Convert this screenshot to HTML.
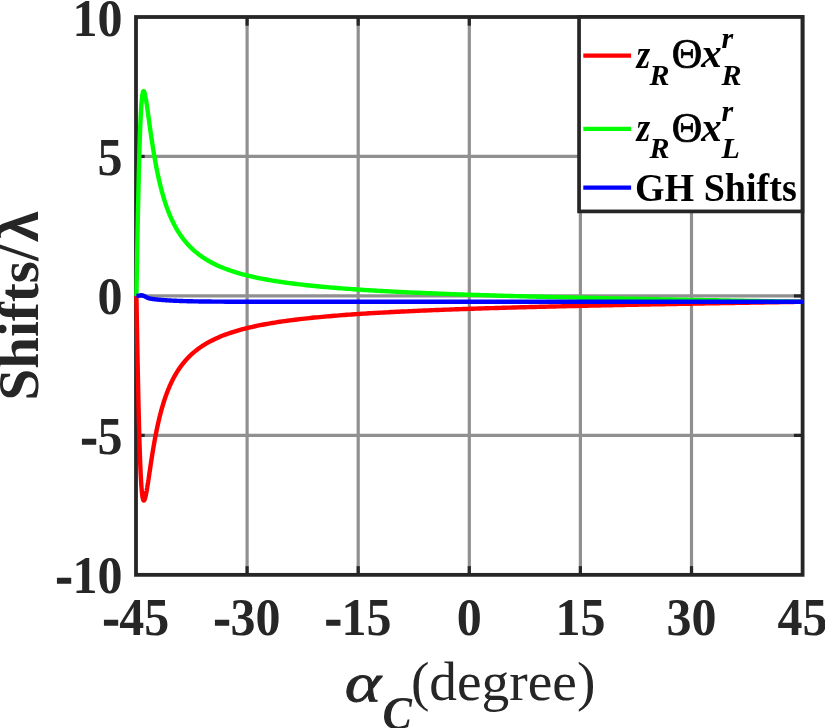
<!DOCTYPE html>
<html><head><meta charset="utf-8"><style>
html,body{margin:0;padding:0;background:#fff;}
body{width:825px;height:728px;overflow:hidden;position:relative;}
svg{position:absolute;left:0;top:0;}
text{font-family:"Liberation Serif",serif;}
.tk{font-weight:bold;font-size:50px;fill:#262626;}
.lg{font-weight:bold;font-size:41px;fill:#000;}
.bi{font-style:italic;font-weight:bold;}
.sub{font-size:30px;}
.xl{font-size:55px;fill:#262626;}
.xsub{font-size:46px;}
.it{font-style:italic;}
.al{stroke:#262626;stroke-width:0.8px;}
.yl{font-weight:bold;font-size:57px;fill:#262626;}
.hy{stroke:#262626;stroke-width:1.3px;}
.lam{font-family:"Liberation Sans",sans-serif;}
</style></head><body>
<svg width="825" height="728" viewBox="0 0 825 728">
<line x1="247.10" y1="17.0" x2="247.10" y2="574.85" stroke="#909090" stroke-width="3.2"/>
<line x1="358.20" y1="17.0" x2="358.20" y2="574.85" stroke="#909090" stroke-width="3.2"/>
<line x1="469.30" y1="17.0" x2="469.30" y2="574.85" stroke="#909090" stroke-width="3.2"/>
<line x1="580.40" y1="17.0" x2="580.40" y2="574.85" stroke="#909090" stroke-width="3.2"/>
<line x1="691.50" y1="17.0" x2="691.50" y2="574.85" stroke="#909090" stroke-width="3.2"/>
<line x1="136.0" y1="435.39" x2="802.6" y2="435.39" stroke="#909090" stroke-width="3.2"/>
<line x1="136.0" y1="295.93" x2="802.6" y2="295.93" stroke="#909090" stroke-width="3.2"/>
<line x1="136.0" y1="156.46" x2="802.6" y2="156.46" stroke="#909090" stroke-width="3.2"/>
<line x1="247.10" y1="574.85" x2="247.10" y2="566.15" stroke="#262626" stroke-width="3.2"/>
<line x1="247.10" y1="17.0" x2="247.10" y2="25.7" stroke="#262626" stroke-width="3.2"/>
<line x1="358.20" y1="574.85" x2="358.20" y2="566.15" stroke="#262626" stroke-width="3.2"/>
<line x1="358.20" y1="17.0" x2="358.20" y2="25.7" stroke="#262626" stroke-width="3.2"/>
<line x1="469.30" y1="574.85" x2="469.30" y2="566.15" stroke="#262626" stroke-width="3.2"/>
<line x1="469.30" y1="17.0" x2="469.30" y2="25.7" stroke="#262626" stroke-width="3.2"/>
<line x1="580.40" y1="574.85" x2="580.40" y2="566.15" stroke="#262626" stroke-width="3.2"/>
<line x1="580.40" y1="17.0" x2="580.40" y2="25.7" stroke="#262626" stroke-width="3.2"/>
<line x1="691.50" y1="574.85" x2="691.50" y2="566.15" stroke="#262626" stroke-width="3.2"/>
<line x1="691.50" y1="17.0" x2="691.50" y2="25.7" stroke="#262626" stroke-width="3.2"/>
<line x1="136.0" y1="435.39" x2="144.7" y2="435.39" stroke="#262626" stroke-width="3.2"/>
<line x1="802.6" y1="435.39" x2="793.9" y2="435.39" stroke="#262626" stroke-width="3.2"/>
<line x1="136.0" y1="295.93" x2="144.7" y2="295.93" stroke="#262626" stroke-width="3.2"/>
<line x1="802.6" y1="295.93" x2="793.9" y2="295.93" stroke="#262626" stroke-width="3.2"/>
<line x1="136.0" y1="156.46" x2="144.7" y2="156.46" stroke="#262626" stroke-width="3.2"/>
<line x1="802.6" y1="156.46" x2="793.9" y2="156.46" stroke="#262626" stroke-width="3.2"/>
<rect x="136.0" y="17.0" width="666.60" height="557.85" fill="none" stroke="#262626" stroke-width="3.8"/>
<polyline points="136.40,295.93 136.47,300.09 136.55,304.26 136.62,308.41 136.70,312.56 136.77,316.70 136.85,320.83 136.92,324.94 137.00,329.03 137.07,333.10 137.14,337.15 137.22,341.17 137.29,345.16 137.37,349.13 137.44,353.06 137.52,356.96 137.59,360.82 137.67,364.64 137.74,368.42 137.81,372.16 137.89,375.85 137.96,379.50 138.04,383.11 138.11,386.66 138.19,390.16 138.26,393.61 138.34,397.01 138.41,400.36 138.48,403.65 138.56,406.88 138.63,410.06 138.71,413.18 138.78,416.24 138.86,419.24 138.93,422.18 139.01,425.06 139.08,427.88 139.15,430.64 139.23,433.33 139.30,435.97 139.38,438.54 139.45,441.05 139.53,443.50 139.60,445.89 139.68,448.22 139.75,450.49 139.82,452.69 139.90,454.84 139.97,456.92 140.05,458.94 140.12,460.91 140.20,462.82 140.27,464.66 140.35,466.45 140.42,468.19 140.49,469.86 140.57,471.48 140.64,473.05 140.72,474.56 140.79,476.02 140.87,477.42 140.94,478.78 141.02,480.08 141.09,481.33 141.16,482.54 141.24,483.69 141.31,484.80 141.39,485.86 141.46,486.88 141.54,487.85 141.61,488.77 141.69,489.66 141.76,490.50 141.83,491.30 141.91,492.06 141.98,492.78 142.06,493.46 142.13,494.11 142.21,494.72 142.28,495.29 142.36,495.83 142.43,496.33 142.50,496.81 142.58,497.24 142.65,497.65 142.73,498.03 142.80,498.38 142.88,498.69 142.95,498.98 143.03,499.25 143.10,499.48 143.17,499.69 143.25,499.88 143.32,500.04 143.40,500.17 143.47,500.29 143.55,500.38 143.62,500.45 143.70,500.49 143.77,500.52 143.84,500.53 143.92,500.52 143.99,500.49 144.07,500.44 144.14,500.37 144.22,500.29 144.29,500.19 144.36,500.07 144.44,499.94 144.51,499.79 144.59,499.63 144.66,499.45 144.74,499.26 144.81,499.06 144.89,498.85 144.96,498.62 145.03,498.38 145.11,498.13 145.18,497.87 145.26,497.59 145.33,497.31 145.41,497.02 145.48,496.71 145.56,496.40 145.63,496.08 145.70,495.75 145.78,495.41 145.85,495.06 145.93,494.71 146.00,494.35 146.08,493.98 146.15,493.60 146.23,493.22 146.30,492.83 146.37,492.43 146.45,492.03 146.52,491.62 146.60,491.21 146.67,490.79 146.75,490.36 146.82,489.93 146.90,489.50 146.97,489.06 147.04,488.62 147.12,488.17 147.19,487.72 147.27,487.27 147.34,486.81 147.42,486.35 147.49,485.89 147.57,485.42 147.64,484.95 147.71,484.48 147.79,484.00 147.86,483.52 147.94,483.04 148.01,482.56 148.09,482.08 148.16,481.59 148.24,481.10 148.31,480.61 148.38,480.12 148.46,479.63 148.53,479.13 148.61,478.64 148.68,478.14 148.76,477.65 148.83,477.15 148.91,476.65 148.98,476.15 149.05,475.65 149.13,475.15 149.20,474.65 149.28,474.15 149.35,473.65 149.43,473.14 149.50,472.64 149.58,472.14 149.65,471.64 149.72,471.14 149.80,470.64 149.87,470.14 149.95,469.64 150.02,469.14 150.10,468.64 150.17,468.14 150.25,467.64 150.32,467.14 150.39,466.65 150.47,466.15 150.54,465.66 150.62,465.16 150.69,464.67 150.77,464.18 150.84,463.69 150.92,463.20 150.99,462.71 151.06,462.22 151.14,461.73 151.21,461.25 151.51,459.32 151.81,457.41 152.11,455.53 152.40,453.67 152.70,451.83 153.00,450.03 153.30,448.25 153.60,446.50 153.89,444.77 154.19,443.08 154.49,441.41 154.79,439.78 155.08,438.17 155.38,436.59 155.68,435.03 155.98,433.51 156.28,432.01 156.57,430.54 156.87,429.09 157.17,427.68 157.47,426.28 157.76,424.92 158.06,423.57 158.36,422.26 158.66,420.96 158.95,419.69 159.25,418.45 159.55,417.22 159.85,416.02 160.15,414.84 160.44,413.68 160.74,412.54 161.04,411.43 161.34,410.33 161.63,409.25 161.93,408.19 162.23,407.15 162.53,406.13 162.83,405.13 163.12,404.14 163.42,403.17 163.72,402.22 164.02,401.28 164.31,400.36 164.61,399.45 164.91,398.56 165.21,397.69 165.51,396.83 165.80,395.98 166.10,395.15 166.40,394.33 166.70,393.53 166.99,392.73 167.29,391.95 167.59,391.19 167.89,390.43 168.19,389.69 168.48,388.96 168.78,388.24 169.08,387.53 169.38,386.83 169.67,386.14 169.97,385.47 170.27,384.80 170.57,384.15 170.87,383.50 171.16,382.86 171.46,382.24 171.76,381.62 172.06,381.01 172.35,380.41 172.65,379.82 172.95,379.23 173.25,378.66 173.54,378.09 173.84,377.53 174.14,376.98 174.44,376.44 174.74,375.90 175.03,375.37 175.33,374.85 175.63,374.34 175.93,373.83 176.22,373.33 176.52,372.84 176.82,372.35 177.12,371.87 177.42,371.40 177.71,370.93 178.01,370.46 178.31,370.01 178.61,369.56 178.90,369.11 179.20,368.67 179.50,368.24 179.80,367.81 180.10,367.39 180.39,366.97 180.69,366.56 180.99,366.15 181.29,365.75 181.58,365.35 181.88,364.96 182.18,364.57 182.48,364.19 182.78,363.81 183.07,363.43 183.37,363.06 183.67,362.70 183.97,362.33 184.26,361.98 184.56,361.62 184.86,361.27 185.16,360.93 185.46,360.59 185.75,360.25 186.05,359.91 186.35,359.58 186.65,359.26 186.94,358.93 187.24,358.61 187.54,358.30 187.84,357.99 188.14,357.68 188.43,357.37 188.73,357.07 189.03,356.77 189.33,356.47 189.62,356.18 189.92,355.89 190.22,355.60 190.52,355.31 190.81,355.03 191.11,354.75 191.41,354.48 191.71,354.21 192.01,353.93 192.30,353.67 192.60,353.40 192.90,353.14 193.20,352.88 193.49,352.62 193.79,352.37 194.09,352.11 194.39,351.86 194.69,351.62 194.98,351.37 195.28,351.13 195.58,350.89 195.88,350.65 196.17,350.41 196.47,350.18 196.77,349.95 197.07,349.72 197.37,349.49 197.66,349.27 197.96,349.04 198.26,348.82 198.56,348.60 198.85,348.39 199.15,348.17 199.45,347.96 199.75,347.74 200.05,347.54 200.34,347.33 200.64,347.12 200.94,346.92 201.24,346.71 201.53,346.51 201.83,346.31 202.13,346.12 202.43,345.92 202.73,345.73 203.02,345.54 203.32,345.34 203.62,345.16 203.92,344.97 204.21,344.78 204.51,344.60 204.81,344.41 205.11,344.23 205.40,344.05 205.70,343.87 206.00,343.70 206.30,343.52 206.60,343.35 206.89,343.18 207.19,343.00 207.49,342.83 207.79,342.66 208.08,342.50 208.38,342.33 208.68,342.17 208.98,342.00 209.28,341.84 209.57,341.68 209.87,341.52 210.17,341.36 210.47,341.20 212.95,339.94 215.43,338.75 217.90,337.63 220.38,336.57 222.86,335.57 225.34,334.63 227.82,333.73 230.30,332.87 232.78,332.06 235.26,331.29 237.74,330.56 240.22,329.85 242.70,329.18 245.18,328.54 247.65,327.93 250.13,327.34 252.61,326.77 255.09,326.23 257.57,325.71 260.05,325.21 262.53,324.72 265.01,324.26 267.49,323.81 269.97,323.38 272.45,322.96 274.93,322.56 277.41,322.17 279.88,321.79 282.36,321.42 284.84,321.07 287.32,320.73 289.80,320.40 292.28,320.07 294.76,319.76 297.24,319.46 299.72,319.16 302.20,318.88 304.68,318.60 307.16,318.33 309.64,318.07 312.11,317.81 314.59,317.56 317.07,317.32 319.55,317.08 322.03,316.85 324.51,316.62 326.99,316.40 329.47,316.19 331.95,315.98 334.43,315.77 336.91,315.57 339.39,315.37 341.87,315.18 344.34,314.99 346.82,314.81 349.30,314.63 351.78,314.46 354.26,314.28 356.74,314.11 359.22,313.95 361.70,313.79 364.18,313.63 366.66,313.47 369.14,313.32 371.62,313.17 374.10,313.02 376.57,312.88 379.05,312.74 381.53,312.60 384.01,312.46 386.49,312.33 388.97,312.20 391.45,312.07 393.93,311.94 396.41,311.81 398.89,311.69 401.37,311.57 403.85,311.45 406.32,311.33 408.80,311.22 411.28,311.10 413.76,310.99 416.24,310.88 418.72,310.77 421.20,310.66 423.68,310.56 426.16,310.45 428.64,310.35 431.12,310.25 433.60,310.15 436.08,310.05 438.55,309.95 441.03,309.86 443.51,309.76 445.99,309.67 448.47,309.58 450.95,309.49 453.43,309.40 455.91,309.31 458.39,309.22 460.87,309.13 463.35,309.05 465.83,308.96 468.31,308.88 470.78,308.80 473.26,308.72 475.74,308.64 478.22,308.56 480.70,308.48 483.18,308.40 485.66,308.32 488.14,308.25 490.62,308.17 493.10,308.10 495.58,308.02 498.06,307.95 500.54,307.88 503.01,307.81 505.49,307.74 507.97,307.67 510.45,307.60 512.93,307.53 515.41,307.46 517.89,307.39 520.37,307.32 522.85,307.26 525.33,307.19 527.81,307.13 530.29,307.06 532.77,307.00 535.24,306.94 537.72,306.87 540.20,306.81 542.68,306.75 545.16,306.69 547.64,306.63 550.12,306.57 552.60,306.51 555.08,306.45 557.56,306.39 560.04,306.33 562.52,306.27 564.99,306.21 567.47,306.16 569.95,306.10 572.43,306.04 574.91,305.99 577.39,305.93 579.87,305.88 582.35,305.82 584.83,305.77 587.31,305.71 589.79,305.66 592.27,305.60 594.75,305.55 597.22,305.50 599.70,305.45 602.18,305.39 604.66,305.34 607.14,305.29 609.62,305.24 612.10,305.19 614.58,305.14 617.06,305.09 619.54,305.04 622.02,304.99 624.50,304.94 626.98,304.89 629.45,304.84 631.93,304.79 634.41,304.74 636.89,304.69 639.37,304.65 641.85,304.60 644.33,304.55 646.81,304.50 649.29,304.46 651.77,304.41 654.25,304.36 656.73,304.32 659.21,304.27 661.68,304.22 664.16,304.18 666.64,304.13 669.12,304.08 671.60,304.04 674.08,303.99 676.56,303.95 679.04,303.90 681.52,303.86 684.00,303.81 686.48,303.77 688.96,303.73 691.44,303.68 693.91,303.64 696.39,303.59 698.87,303.55 701.35,303.51 703.83,303.46 706.31,303.42 708.79,303.37 711.27,303.33 713.75,303.29 716.23,303.25 718.71,303.20 721.19,303.16 723.66,303.12 726.14,303.07 728.62,303.03 731.10,302.99 733.58,302.95 736.06,302.90 738.54,302.86 741.02,302.82 743.50,302.78 745.98,302.74 748.46,302.69 750.94,302.65 753.42,302.61 755.89,302.57 758.37,302.53 760.85,302.49 763.33,302.44 765.81,302.40 768.29,302.36 770.77,302.32 773.25,302.28 775.73,302.24 778.21,302.20 780.69,302.15 783.17,302.11 785.65,302.07 788.12,302.03 790.60,301.99 793.08,301.95 795.56,301.91 798.04,301.86 800.52,301.82 803.00,301.78" fill="none" stroke="#ff0000" stroke-width="4.4" stroke-linejoin="round" stroke-linecap="butt"/>
<polyline points="136.40,295.93 136.47,291.76 136.55,287.59 136.62,283.43 136.70,279.28 136.77,275.14 136.85,271.00 136.92,266.89 137.00,262.79 137.07,258.71 137.14,254.65 137.22,250.62 137.29,246.61 137.37,242.64 137.44,238.69 137.52,234.78 137.59,230.90 137.67,227.06 137.74,223.26 137.81,219.50 137.89,215.79 137.96,212.12 138.04,208.49 138.11,204.92 138.19,201.39 138.26,197.91 138.34,194.49 138.41,191.12 138.48,187.80 138.56,184.54 138.63,181.34 138.71,178.19 138.78,175.10 138.86,172.07 138.93,169.10 139.01,166.19 139.08,163.34 139.15,160.55 139.23,157.83 139.30,155.16 139.38,152.56 139.45,150.01 139.53,147.53 139.60,145.11 139.68,142.76 139.75,140.46 139.82,138.23 139.90,136.06 139.97,133.94 140.05,131.89 140.12,129.90 140.20,127.97 140.27,126.10 140.35,124.29 140.42,122.53 140.49,120.84 140.57,119.20 140.64,117.61 140.72,116.08 140.79,114.61 140.87,113.19 140.94,111.82 141.02,110.51 141.09,109.25 141.16,108.04 141.24,106.88 141.31,105.77 141.39,104.70 141.46,103.69 141.54,102.72 141.61,101.80 141.69,100.92 141.76,100.09 141.83,99.30 141.91,98.55 141.98,97.85 142.06,97.18 142.13,96.55 142.21,95.97 142.28,95.42 142.36,94.91 142.43,94.43 142.50,93.99 142.58,93.59 142.65,93.21 142.73,92.87 142.80,92.57 142.88,92.29 142.95,92.05 143.03,91.83 143.10,91.64 143.17,91.48 143.25,91.35 143.32,91.25 143.40,91.17 143.47,91.11 143.55,91.08 143.62,91.08 143.70,91.09 143.77,91.13 143.84,91.19 143.92,91.27 143.99,91.37 144.07,91.50 144.14,91.64 144.22,91.79 144.29,91.97 144.36,92.16 144.44,92.37 144.51,92.60 144.59,92.84 144.66,93.09 144.74,93.36 144.81,93.65 144.89,93.95 144.96,94.26 145.03,94.58 145.11,94.91 145.18,95.26 145.26,95.62 145.33,95.98 145.41,96.36 145.48,96.75 145.56,97.14 145.63,97.55 145.70,97.96 145.78,98.39 145.85,98.82 145.93,99.25 146.00,99.70 146.08,100.15 146.15,100.61 146.23,101.07 146.30,101.54 146.37,102.02 146.45,102.50 146.52,102.98 146.60,103.47 146.67,103.97 146.75,104.47 146.82,104.97 146.90,105.48 146.97,105.99 147.04,106.50 147.12,107.02 147.19,107.54 147.27,108.06 147.34,108.59 147.42,109.11 147.49,109.64 147.57,110.17 147.64,110.71 147.71,111.24 147.79,111.78 147.86,112.31 147.94,112.85 148.01,113.39 148.09,113.93 148.16,114.47 148.24,115.02 148.31,115.56 148.38,116.10 148.46,116.64 148.53,117.19 148.61,117.73 148.68,118.28 148.76,118.82 148.83,119.36 148.91,119.91 148.98,120.45 149.05,120.99 149.13,121.53 149.20,122.08 149.28,122.62 149.35,123.16 149.43,123.70 149.50,124.24 149.58,124.78 149.65,125.31 149.72,125.85 149.80,126.39 149.87,126.92 149.95,127.45 150.02,127.99 150.10,128.52 150.17,129.05 150.25,129.58 150.32,130.10 150.39,130.63 150.47,131.15 150.54,131.68 150.62,132.20 150.69,132.72 150.77,133.24 150.84,133.76 150.92,134.27 150.99,134.79 151.06,135.30 151.14,135.81 151.21,136.32 151.51,138.35 151.81,140.34 152.11,142.31 152.40,144.25 152.70,146.17 153.00,148.05 153.30,149.90 153.60,151.73 153.89,153.52 154.19,155.29 154.49,157.02 154.79,158.73 155.08,160.40 155.38,162.05 155.68,163.67 155.98,165.25 156.28,166.81 156.57,168.35 156.87,169.85 157.17,171.33 157.47,172.78 157.76,174.21 158.06,175.61 158.36,176.98 158.66,178.33 158.95,179.66 159.25,180.96 159.55,182.24 159.85,183.50 160.15,184.73 160.44,185.94 160.74,187.13 161.04,188.30 161.34,189.45 161.63,190.57 161.93,191.68 162.23,192.77 162.53,193.84 162.83,194.89 163.12,195.93 163.42,196.94 163.72,197.94 164.02,198.92 164.31,199.89 164.61,200.84 164.91,201.77 165.21,202.69 165.51,203.59 165.80,204.48 166.10,205.35 166.40,206.21 166.70,207.05 166.99,207.89 167.29,208.70 167.59,209.51 167.89,210.30 168.19,211.08 168.48,211.85 168.78,212.61 169.08,213.35 169.38,214.09 169.67,214.81 169.97,215.52 170.27,216.22 170.57,216.91 170.87,217.59 171.16,218.26 171.46,218.92 171.76,219.57 172.06,220.21 172.35,220.84 172.65,221.46 172.95,222.08 173.25,222.68 173.54,223.28 173.84,223.86 174.14,224.44 174.44,225.02 174.74,225.58 175.03,226.14 175.33,226.68 175.63,227.23 175.93,227.76 176.22,228.29 176.52,228.81 176.82,229.32 177.12,229.82 177.42,230.32 177.71,230.82 178.01,231.30 178.31,231.78 178.61,232.26 178.90,232.72 179.20,233.19 179.50,233.64 179.80,234.09 180.10,234.54 180.39,234.98 180.69,235.41 180.99,235.84 181.29,236.26 181.58,236.68 181.88,237.10 182.18,237.50 182.48,237.91 182.78,238.31 183.07,238.70 183.37,239.09 183.67,239.47 183.97,239.85 184.26,240.23 184.56,240.60 184.86,240.97 185.16,241.33 185.46,241.69 185.75,242.05 186.05,242.40 186.35,242.74 186.65,243.09 186.94,243.43 187.24,243.76 187.54,244.09 187.84,244.42 188.14,244.75 188.43,245.07 188.73,245.39 189.03,245.70 189.33,246.01 189.62,246.32 189.92,246.63 190.22,246.93 190.52,247.23 190.81,247.52 191.11,247.81 191.41,248.10 191.71,248.39 192.01,248.67 192.30,248.95 192.60,249.23 192.90,249.50 193.20,249.78 193.49,250.05 193.79,250.31 194.09,250.58 194.39,250.84 194.69,251.10 194.98,251.35 195.28,251.61 195.58,251.86 195.88,252.11 196.17,252.36 196.47,252.60 196.77,252.84 197.07,253.08 197.37,253.32 197.66,253.56 197.96,253.79 198.26,254.02 198.56,254.25 198.85,254.48 199.15,254.70 199.45,254.92 199.75,255.14 200.05,255.36 200.34,255.58 200.64,255.79 200.94,256.01 201.24,256.22 201.53,256.43 201.83,256.63 202.13,256.84 202.43,257.04 202.73,257.25 203.02,257.45 203.32,257.64 203.62,257.84 203.92,258.04 204.21,258.23 204.51,258.42 204.81,258.61 205.11,258.80 205.40,258.99 205.70,259.17 206.00,259.36 206.30,259.54 206.60,259.72 206.89,259.90 207.19,260.08 207.49,260.25 207.79,260.43 208.08,260.60 208.38,260.77 208.68,260.95 208.98,261.11 209.28,261.28 209.57,261.45 209.87,261.62 210.17,261.78 210.47,261.94 212.95,263.25 215.43,264.48 217.90,265.64 220.38,266.73 222.86,267.75 225.34,268.73 227.82,269.65 230.30,270.52 232.78,271.35 235.26,272.14 237.74,272.89 240.22,273.60 242.70,274.28 245.18,274.94 247.65,275.56 250.13,276.16 252.61,276.73 255.09,277.28 257.57,277.81 260.05,278.31 262.53,278.80 265.01,279.27 267.49,279.72 269.97,280.16 272.45,280.58 274.93,280.99 277.41,281.38 279.88,281.76 282.36,282.12 284.84,282.48 287.32,282.82 289.80,283.16 292.28,283.48 294.76,283.79 297.24,284.10 299.72,284.39 302.20,284.68 304.68,284.96 307.16,285.23 309.64,285.49 312.11,285.75 314.59,286.00 317.07,286.25 319.55,286.48 322.03,286.72 324.51,286.94 326.99,287.16 329.47,287.38 331.95,287.59 334.43,287.79 336.91,287.99 339.39,288.19 341.87,288.38 344.34,288.57 346.82,288.75 349.30,288.93 351.78,289.11 354.26,289.28 356.74,289.45 359.22,289.61 361.70,289.78 364.18,289.94 366.66,290.09 369.14,290.24 371.62,290.39 374.10,290.54 376.57,290.69 379.05,290.83 381.53,290.97 384.01,291.10 386.49,291.24 388.97,291.37 391.45,291.50 393.93,291.63 396.41,291.75 398.89,291.88 401.37,292.00 403.85,292.12 406.32,292.23 408.80,292.35 411.28,292.46 413.76,292.58 416.24,292.69 418.72,292.80 421.20,292.90 423.68,293.01 426.16,293.11 428.64,293.21 431.12,293.32 433.60,293.42 436.08,293.51 438.55,293.61 441.03,293.71 443.51,293.80 445.99,293.89 448.47,293.99 450.95,294.08 453.43,294.17 455.91,294.26 458.39,294.34 460.87,294.43 463.35,294.52 465.83,294.60 468.31,294.68 470.78,294.77 473.26,294.85 475.74,294.93 478.22,295.01 480.70,295.09 483.18,295.16 485.66,295.24 488.14,295.32 490.62,295.39 493.10,295.47 495.58,295.54 498.06,295.61 500.54,295.69 503.01,295.76 505.49,295.83 507.97,295.90 510.45,295.97 512.93,296.04 515.41,296.11 517.89,296.17 520.37,296.24 522.85,296.31 525.33,296.37 527.81,296.44 530.29,296.50 532.77,296.57 535.24,296.63 537.72,296.69 540.20,296.75 542.68,296.82 545.16,296.88 547.64,296.94 550.12,297.00 552.60,297.06 555.08,297.12 557.56,297.18 560.04,297.24 562.52,297.29 564.99,297.35 567.47,297.41 569.95,297.47 572.43,297.52 574.91,297.58 577.39,297.63 579.87,297.69 582.35,297.74 584.83,297.80 587.31,297.85 589.79,297.91 592.27,297.96 594.75,298.01 597.22,298.07 599.70,298.12 602.18,298.17 604.66,298.22 607.14,298.27 609.62,298.33 612.10,298.38 614.58,298.43 617.06,298.48 619.54,298.53 622.02,298.58 624.50,298.63 626.98,298.68 629.45,298.73 631.93,298.77 634.41,298.82 636.89,298.87 639.37,298.92 641.85,298.97 644.33,299.01 646.81,299.06 649.29,299.11 651.77,299.16 654.25,299.20 656.73,299.25 659.21,299.30 661.68,299.34 664.16,299.39 666.64,299.43 669.12,299.48 671.60,299.53 674.08,299.57 676.56,299.62 679.04,299.66 681.52,299.71 684.00,299.75 686.48,299.80 688.96,299.84 691.44,299.88 693.91,299.93 696.39,299.97 698.87,300.02 701.35,300.06 703.83,300.10 706.31,300.15 708.79,300.19 711.27,300.23 713.75,300.28 716.23,300.32 718.71,300.36 721.19,300.41 723.66,300.45 726.14,300.49 728.62,300.53 731.10,300.58 733.58,300.62 736.06,300.66 738.54,300.70 741.02,300.74 743.50,300.79 745.98,300.83 748.46,300.87 750.94,300.91 753.42,300.95 755.89,301.00 758.37,301.04 760.85,301.08 763.33,301.12 765.81,301.16 768.29,301.20 770.77,301.25 773.25,301.29 775.73,301.33 778.21,301.37 780.69,301.41 783.17,301.45 785.65,301.49 788.12,301.54 790.60,301.58 793.08,301.62 795.56,301.66 798.04,301.70 800.52,301.74 803.00,301.78" fill="none" stroke="#00ff00" stroke-width="4.4" stroke-linejoin="round" stroke-linecap="butt"/>
<polyline points="136.40,295.93 136.47,295.93 136.55,295.92 136.62,295.92 136.70,295.92 136.77,295.92 136.85,295.92 136.92,295.91 137.00,295.91 137.07,295.91 137.14,295.90 137.22,295.89 137.29,295.89 137.37,295.88 137.44,295.88 137.52,295.87 137.59,295.86 137.67,295.85 137.74,295.84 137.81,295.83 137.89,295.82 137.96,295.81 138.04,295.80 138.11,295.79 138.19,295.78 138.26,295.76 138.34,295.75 138.41,295.74 138.48,295.73 138.56,295.71 138.63,295.70 138.71,295.68 138.78,295.67 138.86,295.65 138.93,295.64 139.01,295.62 139.08,295.61 139.15,295.59 139.23,295.58 139.30,295.56 139.38,295.55 139.45,295.53 139.53,295.52 139.60,295.50 139.68,295.49 139.75,295.47 139.82,295.46 139.90,295.45 139.97,295.43 140.05,295.42 140.12,295.41 140.20,295.39 140.27,295.38 140.35,295.37 140.42,295.36 140.49,295.35 140.57,295.34 140.64,295.33 140.72,295.32 140.79,295.31 140.87,295.31 140.94,295.30 141.02,295.30 141.09,295.29 141.16,295.29 141.24,295.28 141.31,295.28 141.39,295.28 141.46,295.28 141.54,295.28 141.61,295.29 141.69,295.29 141.76,295.29 141.83,295.30 141.91,295.31 141.98,295.31 142.06,295.32 142.13,295.33 142.21,295.34 142.28,295.36 142.36,295.37 142.43,295.38 142.50,295.40 142.58,295.42 142.65,295.43 142.73,295.45 142.80,295.47 142.88,295.49 142.95,295.52 143.03,295.54 143.10,295.56 143.17,295.59 143.25,295.62 143.32,295.64 143.40,295.67 143.47,295.70 143.55,295.73 143.62,295.76 143.70,295.79 143.77,295.83 143.84,295.86 143.92,295.89 143.99,295.93 144.07,295.97 144.14,296.00 144.22,296.04 144.29,296.08 144.36,296.12 144.44,296.15 144.51,296.19 144.59,296.23 144.66,296.27 144.74,296.31 144.81,296.35 144.89,296.40 144.96,296.44 145.03,296.48 145.11,296.52 145.18,296.56 145.26,296.60 145.33,296.65 145.41,296.69 145.48,296.73 145.56,296.77 145.63,296.81 145.70,296.86 145.78,296.90 145.85,296.94 145.93,296.98 146.00,297.02 146.08,297.06 146.15,297.10 146.23,297.14 146.30,297.18 146.37,297.22 146.45,297.26 146.52,297.30 146.60,297.34 146.67,297.38 146.75,297.42 146.82,297.45 146.90,297.49 146.97,297.53 147.04,297.56 147.12,297.60 147.19,297.63 147.27,297.67 147.34,297.70 147.42,297.73 147.49,297.76 147.57,297.80 147.64,297.83 147.71,297.86 147.79,297.89 147.86,297.92 147.94,297.95 148.01,297.98 148.09,298.00 148.16,298.03 148.24,298.06 148.31,298.09 148.38,298.11 148.46,298.14 148.53,298.16 148.61,298.19 148.68,298.21 148.76,298.23 148.83,298.26 148.91,298.28 148.98,298.30 149.05,298.32 149.13,298.34 149.20,298.36 149.28,298.38 149.35,298.40 149.43,298.42 149.50,298.44 149.58,298.46 149.65,298.48 149.72,298.49 149.80,298.51 149.87,298.53 149.95,298.55 150.02,298.56 150.10,298.58 150.17,298.59 150.25,298.61 150.32,298.62 150.39,298.64 150.47,298.65 150.54,298.67 150.62,298.68 150.69,298.69 150.77,298.71 150.84,298.72 150.92,298.73 150.99,298.75 151.06,298.76 151.14,298.77 151.21,298.78 151.51,298.83 151.81,298.88 152.11,298.92 152.40,298.96 152.70,299.00 153.00,299.04 153.30,299.08 153.60,299.11 153.89,299.15 154.19,299.18 154.49,299.22 154.79,299.25 155.08,299.28 155.38,299.32 155.68,299.35 155.98,299.38 156.28,299.41 156.57,299.44 156.87,299.47 157.17,299.50 157.47,299.53 157.76,299.56 158.06,299.59 158.36,299.62 158.66,299.65 158.95,299.68 159.25,299.70 159.55,299.73 159.85,299.76 160.15,299.78 160.44,299.81 160.74,299.84 161.04,299.86 161.34,299.89 161.63,299.91 161.93,299.94 162.23,299.96 162.53,299.99 162.83,300.01 163.12,300.03 163.42,300.06 163.72,300.08 164.02,300.10 164.31,300.12 164.61,300.14 164.91,300.17 165.21,300.19 165.51,300.21 165.80,300.23 166.10,300.25 166.40,300.27 166.70,300.29 166.99,300.31 167.29,300.33 167.59,300.35 167.89,300.37 168.19,300.39 168.48,300.40 168.78,300.42 169.08,300.44 169.38,300.46 169.67,300.48 169.97,300.49 170.27,300.51 170.57,300.53 170.87,300.54 171.16,300.56 171.46,300.58 171.76,300.59 172.06,300.61 172.35,300.62 172.65,300.64 172.95,300.65 173.25,300.67 173.54,300.68 173.84,300.70 174.14,300.71 174.44,300.73 174.74,300.74 175.03,300.75 175.33,300.77 175.63,300.78 175.93,300.80 176.22,300.81 176.52,300.82 176.82,300.83 177.12,300.85 177.42,300.86 177.71,300.87 178.01,300.88 178.31,300.90 178.61,300.91 178.90,300.92 179.20,300.93 179.50,300.94 179.80,300.95 180.10,300.96 180.39,300.97 180.69,300.99 180.99,301.00 181.29,301.01 181.58,301.02 181.88,301.03 182.18,301.04 182.48,301.05 182.78,301.06 183.07,301.07 183.37,301.08 183.67,301.09 183.97,301.09 184.26,301.10 184.56,301.11 184.86,301.12 185.16,301.13 185.46,301.14 185.75,301.15 186.05,301.16 186.35,301.16 186.65,301.17 186.94,301.18 187.24,301.19 187.54,301.20 187.84,301.20 188.14,301.21 188.43,301.22 188.73,301.23 189.03,301.23 189.33,301.24 189.62,301.25 189.92,301.26 190.22,301.26 190.52,301.27 190.81,301.28 191.11,301.28 191.41,301.29 191.71,301.30 192.01,301.30 192.30,301.31 192.60,301.32 192.90,301.32 193.20,301.33 193.49,301.33 193.79,301.34 194.09,301.35 194.39,301.35 194.69,301.36 194.98,301.36 195.28,301.37 195.58,301.37 195.88,301.38 196.17,301.38 196.47,301.39 196.77,301.40 197.07,301.40 197.37,301.41 197.66,301.41 197.96,301.42 198.26,301.42 198.56,301.43 198.85,301.43 199.15,301.43 199.45,301.44 199.75,301.44 200.05,301.45 200.34,301.45 200.64,301.46 200.94,301.46 201.24,301.47 201.53,301.47 201.83,301.47 202.13,301.48 202.43,301.48 202.73,301.49 203.02,301.49 203.32,301.49 203.62,301.50 203.92,301.50 204.21,301.51 204.51,301.51 204.81,301.51 205.11,301.52 205.40,301.52 205.70,301.52 206.00,301.53 206.30,301.53 206.60,301.53 206.89,301.54 207.19,301.54 207.49,301.54 207.79,301.55 208.08,301.55 208.38,301.55 208.68,301.56 208.98,301.56 209.28,301.56 209.57,301.56 209.87,301.57 210.17,301.57 210.47,301.57 212.95,301.60 215.43,301.62 217.90,301.63 220.38,301.65 222.86,301.66 225.34,301.68 227.82,301.69 230.30,301.70 232.78,301.71 235.26,301.71 237.74,301.72 240.22,301.73 242.70,301.73 245.18,301.74 247.65,301.74 250.13,301.75 252.61,301.75 255.09,301.75 257.57,301.76 260.05,301.76 262.53,301.76 265.01,301.76 267.49,301.77 269.97,301.77 272.45,301.77 274.93,301.77 277.41,301.77 279.88,301.77 282.36,301.77 284.84,301.78 287.32,301.78 289.80,301.78 292.28,301.78 294.76,301.78 297.24,301.78 299.72,301.78 302.20,301.78 304.68,301.78 307.16,301.78 309.64,301.78 312.11,301.78 314.59,301.78 317.07,301.78 319.55,301.78 322.03,301.78 324.51,301.78 326.99,301.78 329.47,301.78 331.95,301.78 334.43,301.78 336.91,301.78 339.39,301.78 341.87,301.78 344.34,301.78 346.82,301.78 349.30,301.78 351.78,301.78 354.26,301.78 356.74,301.78 359.22,301.78 361.70,301.78 364.18,301.78 366.66,301.78 369.14,301.78 371.62,301.78 374.10,301.78 376.57,301.78 379.05,301.78 381.53,301.78 384.01,301.78 386.49,301.78 388.97,301.78 391.45,301.78 393.93,301.78 396.41,301.78 398.89,301.78 401.37,301.78 403.85,301.78 406.32,301.78 408.80,301.78 411.28,301.78 413.76,301.78 416.24,301.78 418.72,301.78 421.20,301.78 423.68,301.78 426.16,301.78 428.64,301.78 431.12,301.78 433.60,301.78 436.08,301.78 438.55,301.78 441.03,301.78 443.51,301.78 445.99,301.78 448.47,301.78 450.95,301.78 453.43,301.78 455.91,301.78 458.39,301.78 460.87,301.78 463.35,301.78 465.83,301.78 468.31,301.78 470.78,301.78 473.26,301.78 475.74,301.78 478.22,301.78 480.70,301.78 483.18,301.78 485.66,301.78 488.14,301.78 490.62,301.78 493.10,301.78 495.58,301.78 498.06,301.78 500.54,301.78 503.01,301.78 505.49,301.78 507.97,301.78 510.45,301.78 512.93,301.78 515.41,301.78 517.89,301.78 520.37,301.78 522.85,301.78 525.33,301.78 527.81,301.78 530.29,301.78 532.77,301.78 535.24,301.78 537.72,301.78 540.20,301.78 542.68,301.78 545.16,301.78 547.64,301.78 550.12,301.78 552.60,301.78 555.08,301.78 557.56,301.78 560.04,301.78 562.52,301.78 564.99,301.78 567.47,301.78 569.95,301.78 572.43,301.78 574.91,301.78 577.39,301.78 579.87,301.78 582.35,301.78 584.83,301.78 587.31,301.78 589.79,301.78 592.27,301.78 594.75,301.78 597.22,301.78 599.70,301.78 602.18,301.78 604.66,301.78 607.14,301.78 609.62,301.78 612.10,301.78 614.58,301.78 617.06,301.78 619.54,301.78 622.02,301.78 624.50,301.78 626.98,301.78 629.45,301.78 631.93,301.78 634.41,301.78 636.89,301.78 639.37,301.78 641.85,301.78 644.33,301.78 646.81,301.78 649.29,301.78 651.77,301.78 654.25,301.78 656.73,301.78 659.21,301.78 661.68,301.78 664.16,301.78 666.64,301.78 669.12,301.78 671.60,301.78 674.08,301.78 676.56,301.78 679.04,301.78 681.52,301.78 684.00,301.78 686.48,301.78 688.96,301.78 691.44,301.78 693.91,301.78 696.39,301.78 698.87,301.78 701.35,301.78 703.83,301.78 706.31,301.78 708.79,301.78 711.27,301.78 713.75,301.78 716.23,301.78 718.71,301.78 721.19,301.78 723.66,301.78 726.14,301.78 728.62,301.78 731.10,301.78 733.58,301.78 736.06,301.78 738.54,301.78 741.02,301.78 743.50,301.78 745.98,301.78 748.46,301.78 750.94,301.78 753.42,301.78 755.89,301.78 758.37,301.78 760.85,301.78 763.33,301.78 765.81,301.78 768.29,301.78 770.77,301.78 773.25,301.78 775.73,301.78 778.21,301.78 780.69,301.78 783.17,301.78 785.65,301.78 788.12,301.78 790.60,301.78 793.08,301.78 795.56,301.78 798.04,301.78 800.52,301.78 803.00,301.78" fill="none" stroke="#0000ff" stroke-width="4.4" stroke-linejoin="round" stroke-linecap="butt"/>
<text transform="translate(122.50,35.50) scale(1,1.04)" text-anchor="end" class="tk">10</text>
<text transform="translate(122.50,174.96) scale(1,1.04)" text-anchor="end" class="tk">5</text>
<text transform="translate(122.50,314.43) scale(1,1.04)" text-anchor="end" class="tk">0</text>
<text transform="translate(122.50,453.89) scale(1,1.04)" text-anchor="end" class="tk"><tspan class="hy">-</tspan>5</text>
<text transform="translate(122.50,593.35) scale(1,1.04)" text-anchor="end" class="tk"><tspan class="hy">-</tspan>10</text>
<text transform="translate(136.00,634.80) scale(1,1.04)" text-anchor="middle" class="tk"><tspan class="hy">-</tspan>45</text>
<text transform="translate(247.10,634.80) scale(1,1.04)" text-anchor="middle" class="tk"><tspan class="hy">-</tspan>30</text>
<text transform="translate(358.20,634.80) scale(1,1.04)" text-anchor="middle" class="tk"><tspan class="hy">-</tspan>15</text>
<text transform="translate(469.30,634.80) scale(1,1.04)" text-anchor="middle" class="tk">0</text>
<text transform="translate(580.40,634.80) scale(1,1.04)" text-anchor="middle" class="tk">15</text>
<text transform="translate(691.50,634.80) scale(1,1.04)" text-anchor="middle" class="tk">30</text>
<text transform="translate(802.60,634.80) scale(1,1.04)" text-anchor="middle" class="tk">45</text>
<rect x="579.05" y="17.0" width="223.35" height="194.40" fill="#fff" stroke="#262626" stroke-width="3.7"/>
<line x1="583.3" y1="55.6" x2="631.1" y2="55.6" stroke="#ff0000" stroke-width="4.3"/>
<line x1="583.3" y1="128.85" x2="631.1" y2="128.85" stroke="#00ff00" stroke-width="4.3"/>
<line x1="583.3" y1="187.55" x2="631.1" y2="187.55" stroke="#0000ff" stroke-width="4.3"/>
<text transform="translate(636.5,68.1) scale(0.86,1.04)" class="lg bi">z</text><text x="649.5" y="84.6" class="lg bi sub">R</text><text transform="translate(671.7,68.3) scale(1.03,1.05)" class="lg" style="font-weight:normal;stroke:#000;stroke-width:0.7px">Θ</text><text x="701.3" y="67.3" class="lg bi">x</text><text x="721.5" y="47.8" class="lg bi sub">r</text><text x="721.5" y="84.6" class="lg bi sub">R</text>
<text transform="translate(636.5,141.3) scale(0.86,1.04)" class="lg bi">z</text><text x="649.5" y="157.8" class="lg bi sub">R</text><text transform="translate(671.7,141.5) scale(1.03,1.05)" class="lg" style="font-weight:normal;stroke:#000;stroke-width:0.7px">Θ</text><text x="701.3" y="140.5" class="lg bi">x</text><text x="721.5" y="121.0" class="lg bi sub">r</text><text x="721.5" y="157.8" class="lg bi sub">L</text>
<text transform="translate(635.0,201) scale(0.928,1)" class="lg">GH Shifts</text>
<text transform="translate(344.8,701) scale(1.26,1)" class="xl it al">α</text>
<text transform="translate(382.6,729) scale(0.96,1.03)" class="xl bi xsub">C</text>
<text x="410.9" y="699.6" class="xl" style="font-size:55.4px">(degree)</text>
<text transform="translate(38.2,400.4) rotate(-90)" x="0" y="0" class="yl">Shifts/<tspan class="lam" dx="3">λ</tspan></text>
</svg>
</body></html>
